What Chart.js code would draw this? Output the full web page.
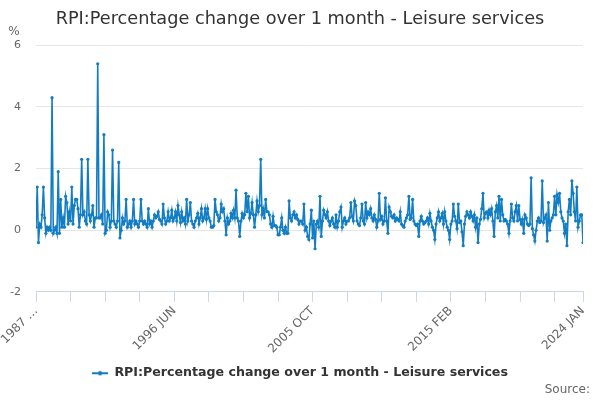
<!DOCTYPE html>
<html>
<head>
<meta charset="utf-8">
<script src="https://cdn.jsdelivr.net/npm/chart.js@4.4.1/dist/chart.umd.min.js"></script>
<style>
html,body{margin:0;padding:0;background:#ffffff;}
#c{display:block;}
</style>
</head>
<body>
<canvas id="c" width="600" height="400"></canvas>
<script>
// ---------- DATA ----------
const seriesName = 'RPI:Percentage change over 1 month - Leisure services';
const startYear = 1987;
const startMonth = 1; // 0 = JAN, 1 = FEB
const monthNames = ['JAN','FEB','MAR','APR','MAY','JUN','JUL','AUG','SEP','OCT','NOV','DEC'];

// 1987 FEB - 1992 SEP
const values1987to1992 = [0.1, 1.4, -0.4, 0.2, 0.1, 0.5, 1.4, 0.4, -0.1, 0.1,
  0.0, 0.1, 0.0, 4.3, -0.1, 0.0, 0.1, -0.1, 1.9, -0.1,
  1.0, 0.1, 0.4, 0.1, 1.1, 0.9, 0.2, 0.6, 0.3, 1.4,
  0.2, 0.8, 1.0, 1.0, 0.7, 0.1, 0.5, 2.3, 0.5, 0.6,
  0.3, 0.2, 2.3, 0.5, 0.3, 0.5, 0.8, 0.1, 0.4, 0.4,
  5.4, 0.4, 0.4, 0.5, 0.2, 3.1, -0.1, 0.0, 0.6, 0.5,
  0.1, 0.3, 2.6, 0.3, 0.2, 0.1, 0.3, 2.2];
// 1992 OCT - 1997 SEP
const values1992to1997 = [-0.25, 0.0, 0.4, 0.2, 0.3, 1.0, 0.1, 0.2, 0.3, 0.1,
  0.3, 1.0, 0.2, 0.3, 0.2, 0.1, 0.3, 1.0, 0.3, 0.2,
  0.3, 0.2, 0.1, 0.7, 0.2, 0.3, 0.1, 0.3, 0.5, 0.4,
  0.45, 0.6, 0.35, 0.3, 0.2, 0.85, 0.4, 0.2, 0.3, 0.6,
  0.3, 0.4, 0.65, 0.3, 0.4, 0.6, 0.3, 0.8, 0.5, 0.25,
  0.6, 0.3, 0.4, 0.2, 1.0, 0.3, 0.5, 0.9, 0.3, 0.2];
// 1997 OCT - 2002 DEC
const values1997to2002 = [0.1, 0.3, 0.4, 0.55, 0.2, 0.4, 0.7, 0.3, 0.4, 0.7,
  0.35, 0.7, 0.4, 0.3, 0.1, 0.1, 0.15, 1.0, 0.6, 0.5,
  0.3, 0.4, 0.85, 0.6, 0.7, 0.3, -0.15, 0.4, 0.2, 0.3,
  0.55, 0.4, 0.65, 0.4, 1.3, 0.4, 0.3, -0.2, 0.3, 0.55,
  0.4, 0.5, 1.2, 0.6, 1.1, 0.4, 0.55, 0.9, 0.5, 0.1,
  0.5, 0.95, 0.6, 0.8, 2.3, 0.5, 0.7, 0.4, 1.0, 0.6,
  0.6, 0.5, 0.2];
// 2003 JAN - 2008 FEB
const values2003to2008 = [0.1, 0.45, 0.15, 0.15, 0.1, -0.15, -0.15, 0.1, 0.4, 0.0,
  -0.1, 0.1, -0.1, -0.1, 0.95, 0.4, 0.3, 0.5, 0.6, 0.4,
  0.5, 0.35, 0.2, 0.3, 0.3, 0.2, 0.85, 0.0, 0.1, -0.2,
  -0.3, 0.2, 0.65, -0.25, 0.3, -0.6, 0.2, 0.3, 0.1, 1.1,
  -0.2, 0.3, 0.65, 0.5, 0.4, 0.6, 0.3, 0.15, 0.3, 0.4,
  0.2, 0.1, 0.5, 0.1, 0.3, 0.6, 0.75, 0.1, 0.3, 0.4,
  0.2, 0.3];
// 2008 MAR - 2013 JUN
const values2008to2013 = [0.3, 0.4, 0.9, 0.45, 0.3, 0.95, 0.8, 0.3, 0.2, 0.15,
  0.4, 0.85, 0.3, 0.2, 0.9, 0.4, 0.6, 0.5, 0.7, 0.4,
  0.3, 0.5, 0.35, 0.1, 0.3, 1.2, 0.35, 0.45, 0.2, 0.3,
  1.05, 0.3, -0.1, 0.75, 0.6, 0.45, 0.4, 0.5, 0.3, 0.4,
  0.35, 0.3, 0.6, 0.2, 0.15, 0.1, 0.3, 0.4, 0.5, 1.1,
  0.35, 0.4, 1.0, 0.3, 0.2, 0.15, 0.2, -0.2, 0.3, 0.45,
  0.3, 0.2, 0.25, 0.3];
// 2013 JUL - 2018 OCT
const values2013to2018 = [0.4, 0.2, 0.55, 0.3, 0.1, 0.0, -0.3, 0.2, 0.4, 0.6,
  0.3, 0.4, 0.55, 0.2, 0.6, 0.3, 0.1, 0.0, -0.3, 0.2,
  0.3, 0.85, 0.45, 0.3, 0.05, 0.85, 0.25, 0.3, -0.05, -0.5,
  0.2, 0.45, 0.6, 0.5, 0.4, 0.6, 0.45, 0.3, 0.5, 0.1,
  0.4, -0.4, 0.2, 0.35, 0.7, 1.2, 0.4, 0.55, 0.6, 0.4,
  0.65, 0.5, 0.7, 0.3, -0.2, 0.6, 0.8, 0.4, 1.1, 0.3,
  1.0, 0.5, 0.3, 0.35];
// 2018 NOV - 2024 JAN
const values2018to2024 = [0.3, 0.2, -0.1, 0.3, 0.85, 0.4, 0.3, 0.6, 0.8, 0.3,
  0.8, 0.35, 0.2, 0.35, -0.1, 0.5, 0.4, 0.2, 0.15, 0.2,
  1.7, 0.05, -0.15, -0.35, 0.0, 0.3, 0.4, 0.25, 0.3, 1.6,
  0.25, 0.4, 0.5, -0.35, 0.9, 0.0, 0.3, 0.4, 0.5, 1.1,
  0.5, 1.15, 0.9, 1.2, 0.6, 0.4, 0.3, -0.1, 0.2, -0.5,
  0.6, 1.0, 0.5, 1.6, 1.2, 0.6, 0.3, 1.4, 0.1, 0.3,
  0.5, 0.5, -0.4];

const tickIndices = [0, 112, 224, 336, 443];
const tickLabels = ['1987 \u2026', '1996 JUN', '2005 OCT', '2015 FEB', '2024 JAN'];
const yTickValues = [-2, 0, 2, 4, 6];

// ---------- BUILD ----------
const values = [].concat(values1987to1992, values1992to1997, values1997to2002,
  values2003to2008, values2008to2013, values2013to2018, values2018to2024);
const categories = values.map((v, i) => {
  const m = startMonth + i;
  return (startYear + Math.floor(m / 12)) + ' ' + monthNames[m % 12];
});
const points = values.map((v, i) => ({ x: i, y: v }));
const lastIndex = values.length - 1;

const FONT = '"DejaVu Sans", Verdana, sans-serif';
Chart.defaults.font.family = FONT;
const lineColor = '#137dc3';

const legendIcon = document.createElement('canvas');
legendIcon.width = 16; legendIcon.height = 8;
(function () {
  const g = legendIcon.getContext('2d');
  g.strokeStyle = lineColor; g.lineWidth = 2;
  g.beginPath(); g.moveTo(0, 4); g.lineTo(16, 4); g.stroke();
  g.fillStyle = lineColor;
  g.beginPath(); g.arc(8, 4, 2.2, 0, Math.PI * 2); g.fill();
})();

const extraText = {
  id: 'extraText',
  afterDraw(chart) {
    const ctx = chart.ctx;
    ctx.save();
    ctx.font = '12px ' + FONT;
    ctx.fillStyle = '#666666';
    ctx.textBaseline = 'middle';
    ctx.textAlign = 'center';
    ctx.fillText('%', 14, 32);
    ctx.textAlign = 'right';
    ctx.fillText('Source:', 590, 390);
    ctx.restore();
  }
};

new Chart(document.getElementById('c'), {
  type: 'line',
  data: {
    labels: categories,
    datasets: [{
      label: seriesName,
      data: points,
      borderColor: lineColor,
      backgroundColor: lineColor,
      borderWidth: 1.6,
      pointRadius: 1.6,
      pointBorderWidth: 0,
      pointBackgroundColor: lineColor,
      pointHoverRadius: 0,
      tension: 0,
      fill: false
    }]
  },
  options: {
    responsive: false,
    animation: false,
    events: [],
    layout: { padding: { left: 0, right: 0, top: 0, bottom: 10.5 } },
    scales: {
      x: {
        type: 'linear',
        min: 0,
        max: lastIndex,
        afterBuildTicks(scale) {
          const t = [];
          for (let v = 0; v < lastIndex - 20; v += 28) t.push({ value: v });
          t.push({ value: lastIndex });
          scale.ticks = t;
        },
        afterFit(scale) { scale.height = 65; },
        ticks: {
          autoSkip: false,
          minRotation: 45,
          maxRotation: 45,
          padding: 2,
          color: '#666666',
          font: { size: 12, family: FONT },
          callback(value) {
            const k = tickIndices.indexOf(value);
            return k >= 0 ? tickLabels[k] : '';
          }
        },
        grid: { drawOnChartArea: false, drawTicks: true, tickLength: 10, color: '#ccd6eb', lineWidth: 1 },
        border: { display: true, color: '#ccd6eb', width: 1 }
      },
      y: {
        min: -2,
        max: 6,
        afterBuildTicks(scale) { scale.ticks = yTickValues.map(v => ({ value: v })); },
        afterFit(scale) { scale.width = 36; },
        ticks: { padding: 15, color: '#666666', font: { size: 11, family: FONT } },
        grid: { color: '#e6e6e6', drawTicks: false, lineWidth: 1 },
        border: { display: false }
      },
      yRight: {
        position: 'right',
        min: -2,
        max: 6,
        afterFit(scale) { scale.width = 17; },
        ticks: { display: false },
        grid: { display: false },
        border: { display: false }
      }
    },
    plugins: {
      title: {
        display: true,
        text: seriesName,
        color: '#333333',
        font: { size: 17.7, weight: 'normal', family: FONT },
        padding: { top: 9, bottom: 15 }
      },
      legend: {
        display: true,
        position: 'bottom',
        labels: {
          usePointStyle: true,
          pointStyleWidth: 16,
          color: '#333333',
          font: { size: 12.6, weight: 'bold', family: FONT },
          generateLabels(chart) {
            return Chart.defaults.plugins.legend.labels.generateLabels(chart)
              .map(it => Object.assign(it, { pointStyle: legendIcon }));
          }
        }
      },
      tooltip: { enabled: false }
    }
  },
  plugins: [extraText]
});
</script>
</body>
</html>
